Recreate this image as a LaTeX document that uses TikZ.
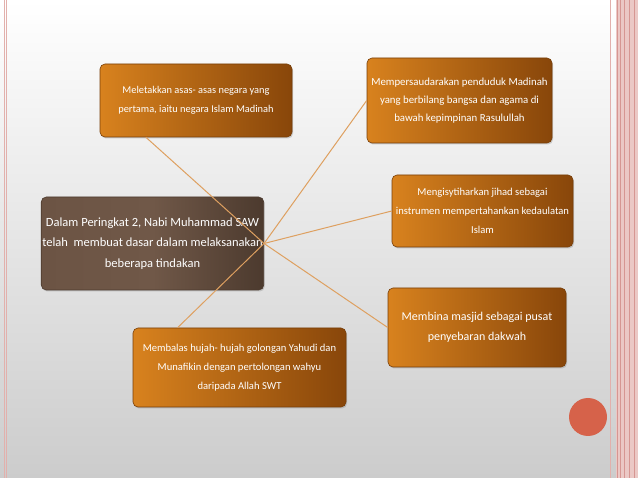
\documentclass[tikz,border=0pt]{standalone}
\usepackage{fontspec}
\setmainfont{Carlito}
\usetikzlibrary{shadows,calc}

\definecolor{jingga}{RGB}{216,130,30}
\definecolor{jinggagelap}{RGB}{136,70,10}
\definecolor{tepijingga}{RGB}{120,62,8}
\definecolor{perang}{RGB}{108,84,68}
\definecolor{perangmuda}{RGB}{112,88,72}
\definecolor{peranggelap}{RGB}{76,58,46}
\definecolor{garis}{RGB}{222,160,96}
\definecolor{merahjambu}{RGB}{226,176,172}
\definecolor{merahjambutua}{RGB}{214,150,146}
\definecolor{bulat}{RGB}{214,98,74}

\tikzset{
  subbox/.style={rounded corners=5pt,draw=tepijingga,line width=0.6pt,
    left color=jingga,right color=jinggagelap,text=white,align=center,
    inner sep=1pt,drop shadow={opacity=0.35,shadow xshift=1pt,shadow yshift=-1.5pt}},
  mainbox/.style={subbox,draw=peranggelap,left color=perang,right color=peranggelap,
    middle color=perangmuda},
  link/.style={draw=garis,line width=1pt}
}

\begin{document}
\begin{tikzpicture}[x=1pt,y=-1pt]
	\useasboundingbox (0,0) rectangle (638,478);
	% latar
	\shade[top color=white,middle color=white!95!black,bottom color=white!80!black] (0,0) rectangle (638,478);
	\draw[merahjambu,line width=0.8pt] (4,0) -- (4,478);
	\draw[merahjambu,line width=0.8pt] (6.5,0) -- (6.5,478);
	\fill[merahjambu!70] (616,0) rectangle (638,478);
	\draw[merahjambu,line width=1pt] (610.5,0) -- (610.5,478);
	\foreach \x in {617,620,624,629,634}
		\draw[merahjambutua,line width=0.7pt] (\x,0) -- (\x,478);
	\fill[bulat] (588,417) circle (19);

	% kotak
	\node[mainbox,minimum width=221pt,minimum height=93pt,font=\fontsize{12.5}{20.5}\selectfont] (pusat) at (152.5,243.5)
		{Dalam Peringkat 2, Nabi Muhammad SAW\\telah\ \ membuat dasar dalam melaksanakan\\beberapa tindakan};
	\node[subbox,minimum width=192pt,minimum height=73pt,font=\fontsize{10.4}{19}\selectfont] (asas) at (196,100.5)
		{Meletakkan asas- asas negara yang\\pertama, iaitu negara Islam Madinah};
	\node[subbox,minimum width=185pt,minimum height=85pt,font=\fontsize{10.8}{18}\selectfont] (saudara) at (459.5,100.5)
		{Mempersaudarakan penduduk Madinah\\yang berbilang bangsa dan agama di\\bawah kepimpinan Rasulullah};
	\node[subbox,minimum width=181pt,minimum height=72pt,font=\fontsize{10.6}{19}\selectfont] (jihad) at (482.5,211)
		{Mengisytiharkan jihad sebagai\\instrumen mempertahankan kedaulatan\\Islam};
	\node[subbox,minimum width=178pt,minimum height=79pt,font=\fontsize{12}{20}\selectfont] (masjid) at (477,327.5)
		{Membina masjid sebagai pusat\\penyebaran dakwah};
	\node[subbox,minimum width=213pt,minimum height=79pt,font=\fontsize{10.6}{19}\selectfont] (hujah) at (239.5,367.5)
		{Membalas hujah- hujah golongan Yahudi dan\\Munafikin dengan pertolongan wahyu\\daripada Allah SWT};

	% garis penghubung
	\coordinate (asasbawah) at ($(asas.south west)!0.24!(asas.south east)$);
	\coordinate (hujahatas) at ($(hujah.north west)!0.21!(hujah.north east)$);
	\draw[link] (pusat.east) -- (asasbawah);
	\draw[link] (pusat.east) -- (saudara.west);
	\draw[link] (pusat.east) -- (jihad.west);
	\draw[link] (pusat.east) -- (masjid.west);
	\draw[link] (pusat.east) -- (hujahatas);
\end{tikzpicture}
\end{document}
